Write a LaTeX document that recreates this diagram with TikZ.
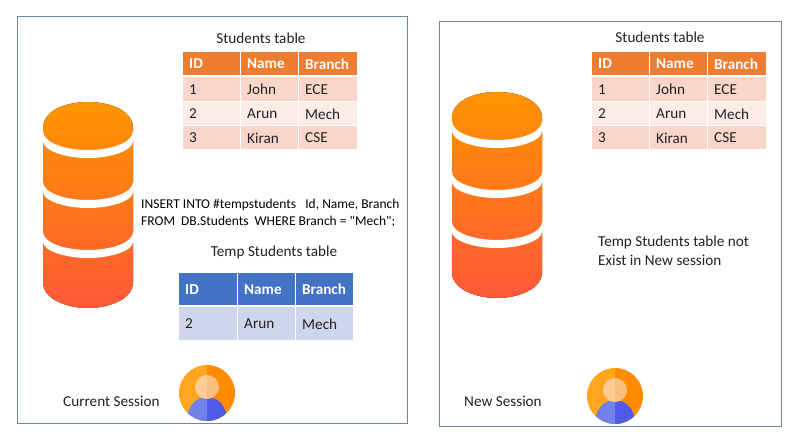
\documentclass[tikz,border=0pt]{standalone}
\usepackage{fontspec}
\setmainfont{Carlito}
\newfontfamily\qfont{Carlito}
\definecolor{panel}{HTML}{6C87A8}
\definecolor{ohead}{HTML}{ED7D31}
\definecolor{orowa}{HTML}{F8D6CA}
\definecolor{orowb}{HTML}{FBECE7}
\definecolor{bhead}{HTML}{4472C4}
\definecolor{brow}{HTML}{CFD5EA}
\definecolor{txt}{HTML}{222222}
\tikzset{
  x=1pt,y=-1pt,
  panelbox/.style={draw=panel,line width=0.8pt,fill=white},
  lbl/.style={font=\fontsize{15.2}{18}\selectfont,text=txt,inner sep=0pt},
  qlbl/.style={font=\qfont\fontsize{13.5}{16}\selectfont,text=black,inner sep=0pt,anchor=west},
  cellt/.style={font=\fontsize{15.2}{18}\selectfont,text=txt,anchor=west,inner sep=0pt},
  headt/.style={font=\bfseries\fontsize{15.2}{18}\selectfont,text=white,anchor=west,inner sep=0pt},
}
\newcommand{\drum}[2]{%
  \begin{scope}[shift={(#1,#2)}]
    \begin{scope}
      \clip (43,128) .. controls (43,112) and (63.25,102) .. (88,102) .. controls (112.75,102) and (133,112) .. (133,128)
        -- (133,283) .. controls (133,297) and (112.75,308) .. (88,308) .. controls (63.25,308) and (43,297) .. (43,283) -- cycle;
      \fill[top color={rgb,255:red,255;green,149;blue,0},bottom color={rgb,255:red,255;green,88;blue,56}] (40,102) rectangle (136,308);
    \end{scope}
    \fill[white] (41,131) -- (43,131) .. controls (43,142) and (63.25,150) .. (88,150) .. controls (112.75,150) and (133,142) .. (133,131) -- (135,131) -- (135,141) -- (133,141) .. controls (133,150) and (112.75,158) .. (88,158) .. controls (63.25,158) and (43,150) .. (43,141) -- (41,141) -- cycle;
    \fill[white] (41,182) -- (43,182) .. controls (43,192) and (63.25,200) .. (88,200) .. controls (112.75,200) and (133,192) .. (133,182) -- (135,182) -- (135,192) -- (133,192) .. controls (133,200) and (112.75,208) .. (88,208) .. controls (63.25,208) and (43,200) .. (43,192) -- (41,192) -- cycle;
    \fill[white] (41,232) -- (43,232) .. controls (43,242) and (63.25,250) .. (88,250) .. controls (112.75,250) and (133,242) .. (133,232) -- (135,232) -- (135,242) -- (133,242) .. controls (133,250) and (112.75,258) .. (88,258) .. controls (63.25,258) and (43,250) .. (43,242) -- (41,242) -- cycle;
  \end{scope}}
\newcommand{\avatar}[2]{%
  \begin{scope}[shift={(#1,#2)}]
    \fill[fill={rgb,255:red,255;green,165;blue,30}] (0,-28) arc[start angle=90,end angle=270,radius=28pt] -- cycle;
    \fill[fill={rgb,255:red,255;green,140;blue,0}] (0,-28) arc[start angle=90,end angle=-90,radius=28pt] -- cycle;
    \begin{scope}
      \clip (0,0) circle[radius=28pt];
      \fill[fill={rgb,255:red,112;green,130;blue,232}] (0,4) .. controls (-12,4) and (-20,14) .. (-20,28) -- (0,28) -- cycle;
      \fill[fill={rgb,255:red,78;green,92;blue,232}] (0,4) .. controls (12,4) and (20,14) .. (20,28) -- (0,28) -- cycle;
    \end{scope}
    \fill[fill={rgb,255:red,254;green,204;blue,148}] (0,-18) arc[start angle=90,end angle=270,radius=12pt] -- cycle;
    \fill[fill={rgb,255:red,252;green,190;blue,124}] (0,-18) arc[start angle=90,end angle=-90,radius=12pt] -- cycle;
  \end{scope}}
% name, x0, y0, x1, y1, colour, text style, text
\newcommand{\cellbox}[8]{%
  \fill[#6] (#2,#3) rectangle (#4,#5);
  \node[#7] (#1) at (#2+6,{(#3+#5)/2+0.5}) {#8};}
\newcommand{\students}[3]{%
  \begin{scope}[shift={(#2,#3)}]
    \cellbox{#1h1}{183}{52}{240}{75}{ohead}{headt}{ID}
    \cellbox{#1h2}{241}{52}{298}{75}{ohead}{headt}{Name}
    \cellbox{#1h3}{299}{52}{357}{75}{ohead}{headt}{Branch}
    \cellbox{#1a1}{183}{77}{240}{101}{orowa}{cellt}{1}
    \cellbox{#1a2}{241}{77}{298}{101}{orowa}{cellt}{John}
    \cellbox{#1a3}{299}{77}{357}{101}{orowa}{cellt}{ECE}
    \cellbox{#1b1}{183}{102}{240}{125}{orowb}{cellt}{2}
    \cellbox{#1b2}{241}{102}{298}{125}{orowb}{cellt}{Arun}
    \cellbox{#1b3}{299}{102}{357}{125}{orowb}{cellt}{Mech}
    \cellbox{#1c1}{183}{126}{240}{149}{orowa}{cellt}{3}
    \cellbox{#1c2}{241}{126}{298}{149}{orowa}{cellt}{Kiran}
    \cellbox{#1c3}{299}{126}{357}{149}{orowa}{cellt}{CSE}
  \end{scope}}
\begin{document}
\begin{tikzpicture}
\useasboundingbox (0,0) rectangle (800,440);
\fill[white] (0,0) rectangle (800,440);
\draw[panelbox] (17,16) rectangle (407,423);
\draw[panelbox] (439,21) rectangle (781,426);
\drum{0}{0}
\drum{409}{-10}
\node[lbl] (t1) at (261,38.5) {Students table};
\students{L}{0}{0}
\node[lbl] (t2) at (660,37) {Students table};
\students{R}{409}{0}
\node[qlbl] (q1) at (141,204.5) {INSERT INTO \#tempstudents\ \ \ Id, Name, Branch};
\node[qlbl] (q2) at (141,221.5) {FROM\ \ DB.Students\ \ WHERE Branch = "Mech";};
\node[lbl] (t3) at (274,252.5) {Temp Students table};
\cellbox{Th1}{179}{273}{237}{305}{bhead}{headt}{ID}
\cellbox{Th2}{238}{273}{295}{305}{bhead}{headt}{Name}
\cellbox{Th3}{296}{273}{353}{305}{bhead}{headt}{Branch}
\cellbox{Tr1}{179}{307}{237}{340}{brow}{cellt}{2}
\cellbox{Tr2}{238}{307}{295}{340}{brow}{cellt}{Arun}
\cellbox{Tr3}{296}{307}{353}{340}{brow}{cellt}{Mech}
\node[lbl,anchor=west] (n1) at (598,242.5) {Temp Students table not};
\node[lbl,anchor=west] (n2) at (598,260.5) {Exist in New session};
\node[lbl,anchor=west] (c1) at (63,401.5) {Current Session};
\node[lbl,anchor=west] (c2) at (464,401.5) {New Session};
\avatar{207}{393}
\avatar{615}{396}
\end{tikzpicture}
\end{document}
